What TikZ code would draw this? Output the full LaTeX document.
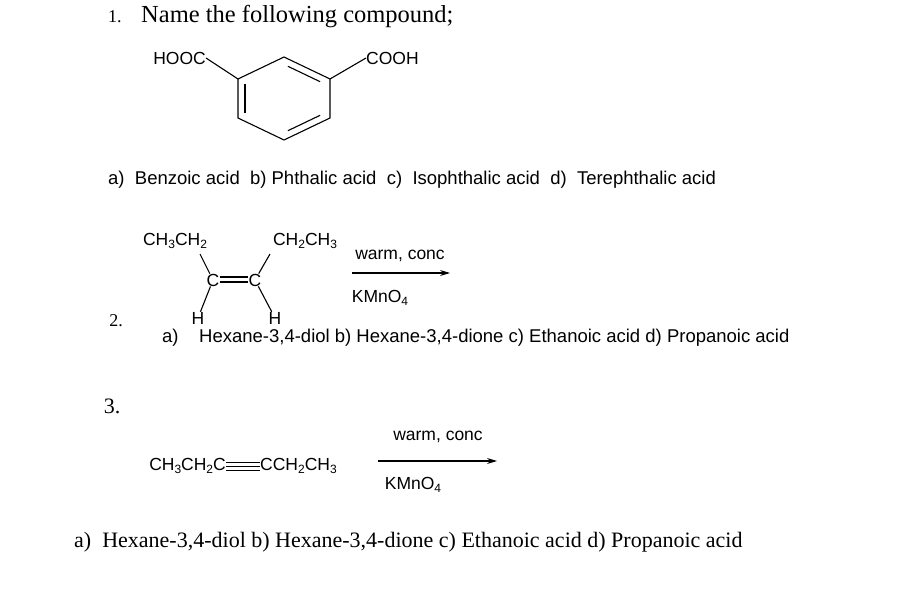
\documentclass[tikz,border=0pt]{standalone}
\usepackage{fontspec}
\usetikzlibrary{calc,arrows.meta}
\setmainfont{Liberation Serif}
\newfontfamily\arial{Liberation Sans}
\newcommand{\chsub}[1]{\raisebox{-0.35ex}{\fontsize{12}{12}\selectfont #1}}
\begin{document}
\begin{tikzpicture}[x=1pt,y=-1pt,
  bond/.style={line width=1.1pt},
  ser/.style={font=\fontsize{22}{26}\selectfont, inner sep=0pt},
  sans/.style={font=\arial\fontsize{18.5}{22}\selectfont, inner sep=0pt},
  chem/.style={font=\arial\fontsize{17.5}{20}\selectfont, inner sep=0pt},
  rx/.style={-{Stealth[length=10pt,width=6pt]}, line width=1.1pt}]
\useasboundingbox (0,0) rectangle (902,604);
% 1
\node[ser, anchor=west, font=\fontsize{18}{20}\selectfont] (q1n) at (108,17) {1.};
\node[ser, anchor=west, font=\fontsize{24.5}{28}\selectfont] (q1) at (141,17) {Name the following compound;};
\coordinate (b1) at (284,57); \coordinate (b2) at (330,79); \coordinate (b3) at (330,118);
\coordinate (b4) at (284,140); \coordinate (b5) at (238,118); \coordinate (b6) at (238,79);
\draw[bond] (b1)--(b2)--(b3)--(b4)--(b5)--(b6)--cycle;
\draw[bond] ($(b6)!0.12!(b5)+(7,0)$) -- ($(b5)!0.12!(b6)+(7,0)$);
\draw[bond] ($(b1)!0.15!(b2)+(-3,6)$) -- ($(b2)!0.15!(b1)+(-3,6)$);
\draw[bond] ($(b3)!0.15!(b4)+(-3,-6)$) -- ($(b4)!0.15!(b3)+(-3,-6)$);
\node[chem, anchor=east] (hooc) at (206,58) {HOOC};
\node[chem, anchor=west] (cooh) at (366,58) {COOH};
\draw[bond] (hooc.east) -- (b6);
\draw[bond] (cooh.west) -- (b2);
\node[sans, anchor=west] (a1) at (108,180) {a)\ \ Benzoic acid\ \ b) Phthalic acid\ \ c)\ \ Isophthalic acid\ \ d)\ \ Terephthalic acid};
% 2
\node[chem] (et1) at (175,241) {CH\chsub{3}CH\chsub{2}};
\node[chem] (et2) at (305,241) {CH\chsub{2}CH\chsub{3}};
\node[chem] (c1) at (213,280) {C};
\node[chem] (c2) at (255,280) {C};
\node[chem] (h1) at (198,318) {H};
\node[chem] (h2) at (275,318) {H};
\draw[bond] ($(c1.east)+(0,-3)$) -- ($(c2.west)+(0,-3)$);
\draw[bond] ($(c1.east)+(0,2)$) -- ($(c2.west)+(0,2)$);
\draw[bond] (200,254) -- (c1);
\draw[bond] (270,254) -- (c2);
\draw[bond] (c1) -- (h1);
\draw[bond] (c2) -- (h2);
\coordinate (r1s) at (352,273); \coordinate (r1e) at (450,273);
\draw[rx] (r1s) -- (r1e);
\node[chem] (w1) at (400,256) {warm, conc};
\node[chem] (k1) at (380,298) {KMnO\chsub{4}};
\node[ser, font=\fontsize{18}{20}\selectfont] (n2) at (116,321) {2.};
\node[sans, anchor=west] (a2) at (162,338) {a)\ \ \ \ Hexane-3,4-diol b) Hexane-3,4-dione c) Ethanoic acid d) Propanoic acid};
% 3
\node[ser] (n3) at (112,406) {3.};
\node[chem, anchor=east] (l3) at (226,466) {CH\chsub{3}CH\chsub{2}C};
\node[chem, anchor=west] (r3) at (260,466) {CCH\chsub{2}CH\chsub{3}};
\foreach \d in {-4,0,4} \draw[line width=0.9pt] ($(l3.east)+(0,\d)$) -- ($(r3.west)+(0,\d)$);
\coordinate (r3s) at (378,461); \coordinate (r3e) at (497,461);
\draw[rx] (r3s) -- (r3e);
\node[chem] (w3) at (438,437) {warm, conc};
\node[chem] (k3) at (413,485) {KMnO\chsub{4}};
\node[ser, anchor=west] (a3) at (74,542) {a)\ \ Hexane-3,4-diol b) Hexane-3,4-dione c) Ethanoic acid d) Propanoic acid};
\end{tikzpicture}
\end{document}
